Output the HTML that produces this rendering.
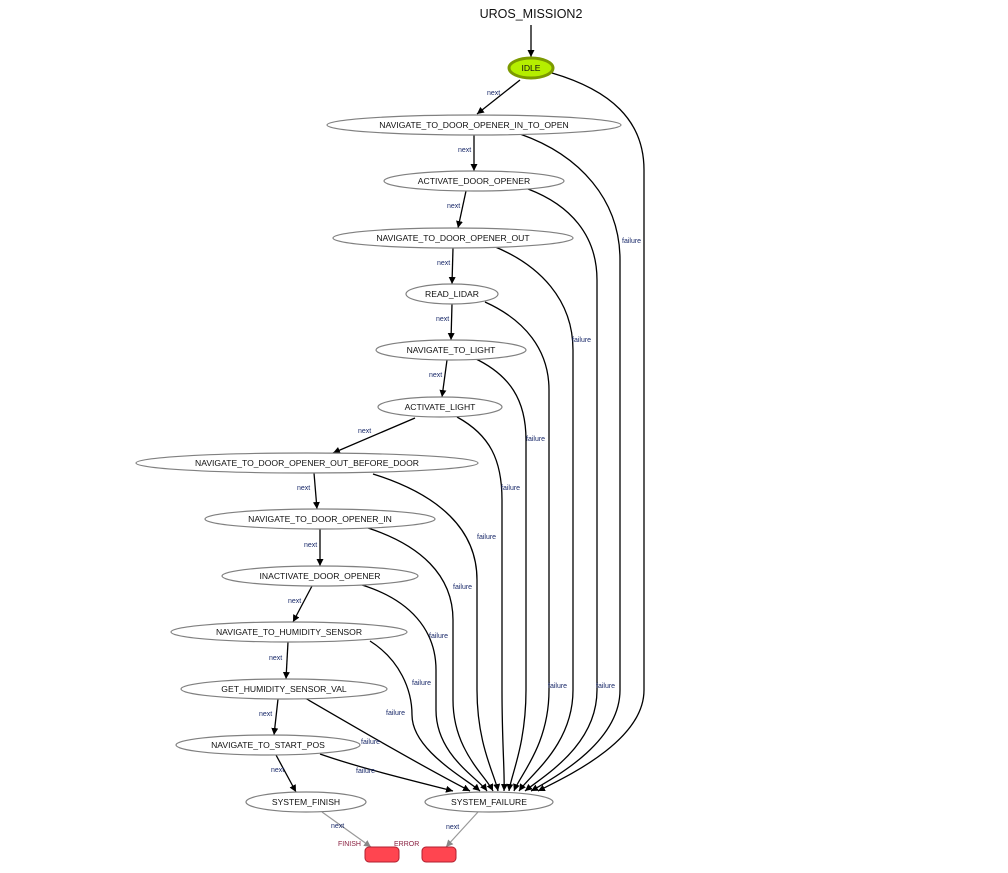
<!DOCTYPE html>
<html><head><meta charset="utf-8"><style>
html,body{margin:0;padding:0;background:#fff;}
svg{display:block;font-family:"Liberation Sans","DejaVu Sans",sans-serif;}
.n{fill:#fff;stroke:#808080;stroke-width:1.2;}
.t{font-size:8.6px;fill:#111;text-anchor:middle;}
.e{fill:none;stroke:#000;stroke-width:1.3;}
.g{fill:none;stroke:#999;stroke-width:1.2;}
.l{font-size:7px;fill:#1a2a6a;}
</style></head><body>
<svg width="1008" height="873" viewBox="0 0 1008 873">
<defs>
<marker id="a" viewBox="0 0 10 10" refX="10" refY="5" markerWidth="7" markerHeight="7" markerUnits="userSpaceOnUse" orient="auto"><path d="M0,0L10,5L0,10z" fill="#000"/></marker>
<marker id="ag" viewBox="0 0 10 10" refX="10" refY="5" markerWidth="7" markerHeight="7" markerUnits="userSpaceOnUse" orient="auto"><path d="M0,0L10,5L0,10z" fill="#888"/></marker>
</defs>
<text x="531" y="18" font-size="12.5" text-anchor="middle" fill="#111">UROS_MISSION2</text>

<!-- failure edges -->
<g class="e" marker-end="url(#a)">
<path d="M552,73 C610,90 644,120 644,170 L644,690 C644,740 570,775 538,791"/>
<path d="M520,134 C580,155 620,200 620,260 L620,690 C620,740 560,775 531,791"/>
<path d="M528,189 C570,205 597,235 597,280 L597,690 C597,745 545,775 525,791"/>
<path d="M493,246 C540,265 573,300 573,350 L573,690 C573,745 530,775 519,791"/>
<path d="M485,302 C525,320 549,350 549,390 L549,690 C549,745 520,775 514,791"/>
<path d="M474,358 C510,375 526,400 526,440 L526,690 C526,745 511,775 509,791"/>
<path d="M457,417 C490,435 502,460 502,500 L502,690 C502,745 505,775 504,791"/>
<path d="M373,474 C440,495 477,530 477,580 L477,690 C477,745 495,775 498,791"/>
<path d="M368,528 C420,545 453,575 453,620 L453,700 C453,750 485,775 493,791"/>
<path d="M362,585 C410,600 436,630 436,670 L436,710 C436,755 478,778 487,791"/>
<path d="M370,641 C400,660 412,690 412,715 C412,750 465,778 480,791"/>
<path d="M305,698 C360,730 420,765 470,791"/>
<path d="M320,754 C360,768 410,780 453,791"/>
</g>

<!-- next edges -->
<g class="e" marker-end="url(#a)">
<path d="M531,25 L531,57"/>
<path d="M520,80 L477,114"/>
<path d="M474,135 L474,171"/>
<path d="M466,191 L458,228"/>
<path d="M453,248 L452,284"/>
<path d="M452,304 L451,340"/>
<path d="M447,360 L442,397"/>
<path d="M415,418 L333,453"/>
<path d="M314,473 L317,509"/>
<path d="M320,529 L320,566"/>
<path d="M312,586 L293,622"/>
<path d="M288,642 L286,679"/>
<path d="M278,699 L274,735"/>
<path d="M276,755 L296,792"/>
</g>
<path class="g" d="M322,812 L371,847" marker-end="url(#ag)"/>
<path class="g" d="M478,812 L446,847" marker-end="url(#ag)"/>

<!-- nodes -->
<ellipse cx="531" cy="68" rx="22" ry="10" fill="#b5ee00" stroke="#7c9a00" stroke-width="3"/>
<text class="t" x="531" y="71">IDLE</text>
<ellipse class="n" cx="474" cy="125" rx="147" ry="10"/><text class="t" x="474" y="128">NAVIGATE_TO_DOOR_OPENER_IN_TO_OPEN</text>
<ellipse class="n" cx="474" cy="181" rx="90" ry="10"/><text class="t" x="474" y="184">ACTIVATE_DOOR_OPENER</text>
<ellipse class="n" cx="453" cy="238" rx="120" ry="10"/><text class="t" x="453" y="241">NAVIGATE_TO_DOOR_OPENER_OUT</text>
<ellipse class="n" cx="452" cy="294" rx="46" ry="10"/><text class="t" x="452" y="297">READ_LIDAR</text>
<ellipse class="n" cx="451" cy="350" rx="75" ry="10"/><text class="t" x="451" y="353">NAVIGATE_TO_LIGHT</text>
<ellipse class="n" cx="440" cy="407" rx="62" ry="10"/><text class="t" x="440" y="410">ACTIVATE_LIGHT</text>
<ellipse class="n" cx="307" cy="463" rx="171" ry="10"/><text class="t" x="307" y="466">NAVIGATE_TO_DOOR_OPENER_OUT_BEFORE_DOOR</text>
<ellipse class="n" cx="320" cy="519" rx="115" ry="10"/><text class="t" x="320" y="522">NAVIGATE_TO_DOOR_OPENER_IN</text>
<ellipse class="n" cx="320" cy="576" rx="98" ry="10"/><text class="t" x="320" y="579">INACTIVATE_DOOR_OPENER</text>
<ellipse class="n" cx="289" cy="632" rx="118" ry="10"/><text class="t" x="289" y="635">NAVIGATE_TO_HUMIDITY_SENSOR</text>
<ellipse class="n" cx="284" cy="689" rx="103" ry="10"/><text class="t" x="284" y="692">GET_HUMIDITY_SENSOR_VAL</text>
<ellipse class="n" cx="268" cy="745" rx="92" ry="10"/><text class="t" x="268" y="748">NAVIGATE_TO_START_POS</text>
<ellipse class="n" cx="306" cy="802" rx="60" ry="10"/><text class="t" x="306" y="805">SYSTEM_FINISH</text>
<ellipse class="n" cx="489" cy="802" rx="64" ry="10"/><text class="t" x="489" y="805">SYSTEM_FAILURE</text>
<rect x="365" y="847" width="34" height="15" rx="4" fill="#ff4550" stroke="#b02030"/>
<rect x="422" y="847" width="34" height="15" rx="4" fill="#ff4550" stroke="#b02030"/>

<!-- labels -->
<g class="l">
<text x="487" y="95">next</text>
<text x="458" y="152">next</text>
<text x="447" y="208">next</text>
<text x="437" y="265">next</text>
<text x="436" y="321">next</text>
<text x="429" y="377">next</text>
<text x="358" y="433">next</text>
<text x="297" y="490">next</text>
<text x="304" y="547">next</text>
<text x="288" y="603">next</text>
<text x="269" y="660">next</text>
<text x="259" y="716">next</text>
<text x="271" y="772">next</text>
<text x="331" y="828">next</text>
<text x="446" y="829">next</text>
<text x="622" y="243">failure</text>
<text x="572" y="342">failure</text>
<text x="526" y="441">failure</text>
<text x="501" y="490">failure</text>
<text x="477" y="539">failure</text>
<text x="453" y="589">failure</text>
<text x="429" y="638">failure</text>
<text x="412" y="685">failure</text>
<text x="386" y="715">failure</text>
<text x="361" y="744">failure</text>
<text x="356" y="773">failure</text>
<text x="548" y="688">failure</text>
<text x="596" y="688">failure</text>
<text x="338" y="846" fill="#8a2040">FINISH</text>
<text x="394" y="846" fill="#8a2040">ERROR</text>
</g>
</svg>
</body></html>
